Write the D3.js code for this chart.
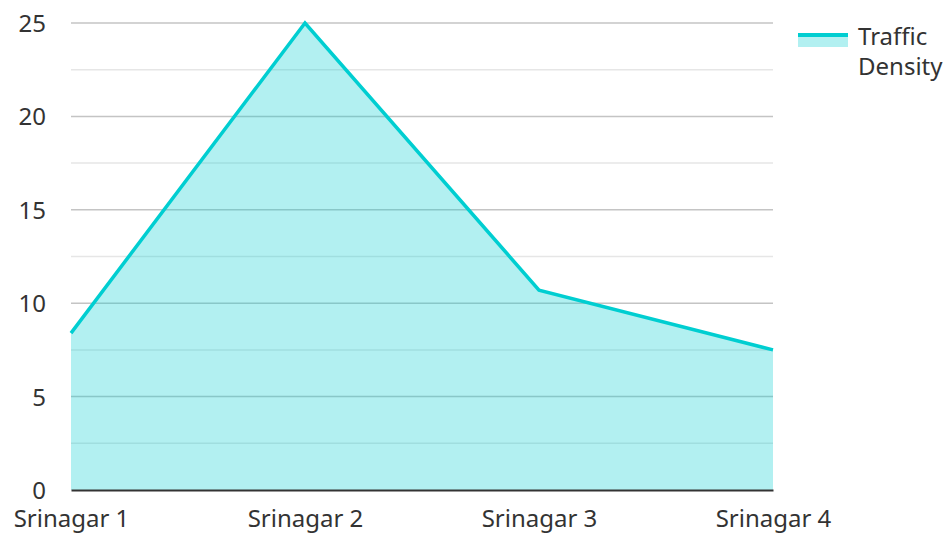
<!DOCTYPE html>
<html>
<head>
<meta charset="utf-8">
<script src="https://cdn.jsdelivr.net/npm/d3@7"></script>
<style>
  body { margin: 0; background: #fff; }
  svg { display: block; font-family: "Noto Sans", "Open Sans", sans-serif; }
  .tick text { fill: #333; font-size: 24px; font-family: "Noto Sans", "Open Sans", sans-serif; }
</style>
</head>
<body>
<svg id="chart" width="947" height="533"></svg>
<script>
// data
const categories = ["Srinagar 1", "Srinagar 2", "Srinagar 3", "Srinagar 4"];
const density = [8.4, 25, 10.7, 7.5];
const yTicks = [0, 5, 10, 15, 20, 25];
const seriesName = ["Traffic", "Density"];

const lineColor = "#00ced1";
const margin = {top: 23, right: 174, bottom: 43, left: 71};
const width = 947, height = 533;

const svg = d3.select("#chart");

let x = d3.scalePoint()
    .domain(categories)
    .range([margin.left, width - margin.right]);

let y = d3.scaleLinear()
    .domain([0, 25])
    .range([height - margin.bottom, margin.top]);

// minor grid (half steps)
let minor = d3.range(2.5, 25, 5);
svg.append("g")
    .selectAll("line")
    .data(minor)
    .join("line")
    .attr("x1", margin.left)
    .attr("x2", width - margin.right)
    .attr("y1", d => y(d))
    .attr("y2", d => y(d))
    .attr("stroke", "#e6e6e6")
    .attr("stroke-width", 1.5);

// major grid
svg.append("g")
    .selectAll("line")
    .data(yTicks.slice(1))
    .join("line")
    .attr("x1", margin.left)
    .attr("x2", width - margin.right)
    .attr("y1", d => y(d))
    .attr("y2", d => y(d))
    .attr("stroke", "#c4c4c4")
    .attr("stroke-width", 1.5);

let pts = categories.map((c, i) => [c, density[i]]);

let area = d3.area()
    .x(d => x(d[0]))
    .y0(y(0))
    .y1(d => y(d[1]));

let line = d3.line()
    .x(d => x(d[0]))
    .y(d => y(d[1]));

svg.append("path")
    .datum(pts)
    .attr("d", area)
    .attr("fill", lineColor)
    .attr("fill-opacity", 0.3);

svg.append("path")
    .datum(pts)
    .attr("d", line)
    .attr("fill", "none")
    .attr("stroke", lineColor)
    .attr("stroke-width", 3.5);

// y axis labels
let yAxis = svg.append("g")
    .attr("transform", "translate(" + margin.left + ",0)")
    .call(d3.axisLeft(y).tickValues(yTicks).tickSize(0).tickPadding(25));
yAxis.select(".domain").remove();
yAxis.selectAll(".tick text").attr("dy", "0.35em");

// x axis
let xAxis = svg.append("g")
    .attr("transform", "translate(0," + y(0) + ")")
    .call(d3.axisBottom(x).tickSize(0).tickPadding(20));
xAxis.select(".domain").attr("stroke", "#333").attr("stroke-width", 2);

// legend
let lg = svg.append("g").attr("transform", "translate(798,33)");
lg.append("rect")
    .attr("x", 0).attr("y", 2)
    .attr("width", 50).attr("height", 12)
    .attr("fill", lineColor).attr("fill-opacity", 0.3);
lg.append("line")
    .attr("x1", 0).attr("x2", 50)
    .attr("y1", 2).attr("y2", 2)
    .attr("stroke", lineColor).attr("stroke-width", 4);
lg.append("text")
    .attr("x", 60).attr("y", 12)
    .attr("fill", "#333")
    .attr("font-size", 24)
    .selectAll("tspan")
    .data(seriesName)
    .join("tspan")
    .attr("x", 60)
    .attr("dy", (d, i) => i ? 30 : 0)
    .text(d => d);
</script>
</body>
</html>
